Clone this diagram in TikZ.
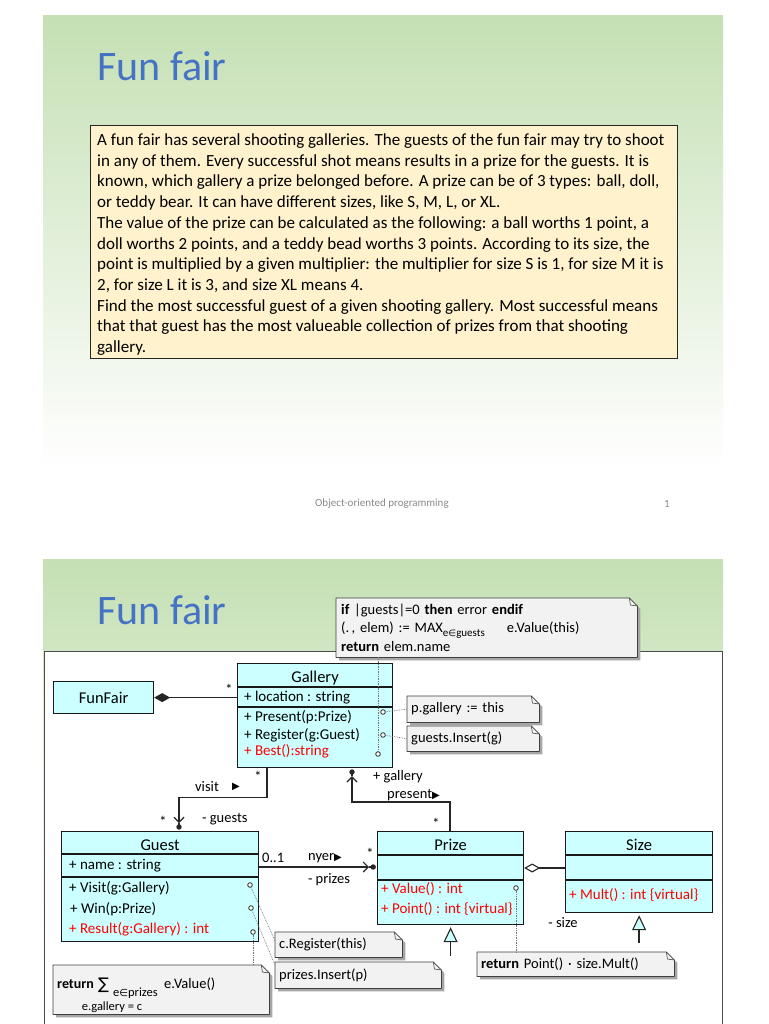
\documentclass[tikz,border=0pt]{standalone}
\usepackage{fontspec}
\setmainfont{Carlito}
\newfontfamily\symf{DejaVu Sans}
\usetikzlibrary{arrows.meta,calc}
\pgfdeclarelayer{back}
\pgfdeclarelayer{bg}
\pgfsetlayers{back,bg,main}
\newcommand\myfs[2]{\fontsize{#1}{#2}\selectfont}
\definecolor{slidegreen}{HTML}{C5E0B4}
\definecolor{titleblue}{HTML}{4472C4}
\definecolor{boxyellow}{HTML}{FFF2CC}
\definecolor{classcyan}{HTML}{CCFFFF}
\definecolor{notegrey}{HTML}{F2F2F2}
\definecolor{opred}{HTML}{FF0000}
\definecolor{footgrey}{HTML}{898989}
\tikzset{
 slidetitle/.style={font=\myfs{42}{42}, text=titleblue, inner sep=0},
 classbox/.style={draw=black!90, fill=classcyan, line width=1.2pt, anchor=north west, inner sep=0},
 classdiv/.style={draw=black!90, line width=1.2pt},
 classtitle/.style={font=\myfs{16.5}{18}, inner sep=0, text height=14pt, text depth=1pt},
 member/.style={font=\myfs{15}{16}, inner sep=0, anchor=west, text height=11pt, text depth=2pt},
 redop/.style={member, text=opred},
 opcirc/.style={circle, draw=black!85, fill=white, line width=0.8pt, inner sep=0, minimum size=4.6pt},
 assoc/.style={draw=black!85, line width=1.3pt},
 barbtip/.style={-{Straight Barb[length=5pt,width=10pt,line width=1.2pt]}},
 lbl/.style={font=\myfs{14.5}{16}, inner sep=0},
 notetxt/.style={anchor=north west, inner xsep=4pt, inner ysep=0, align=left, font=\myfs{14.5}{18.5}},
 noteline/.style={draw=black!55, densely dotted, line width=0.7pt},
}
\newcommand\notefold[1]{%
\begin{pgfonlayer}{bg}
\fill[black!35] ([shift={(3pt,-3pt)}]#1.north west) -- ([shift={(-5pt,-3pt)}]#1.north east) -- ([shift={(3pt,-11pt)}]#1.north east) -- ([shift={(3pt,-3pt)}]#1.south east) -- ([shift={(3pt,-3pt)}]#1.south west) -- cycle;
\filldraw[fill=notegrey, draw=black!75, line width=0.8pt, line join=round] (#1.north west) -- ([xshift=-8pt]#1.north east) -- ([yshift=-8pt]#1.north east) -- (#1.south east) -- (#1.south west) -- cycle;
\draw[black!75, line width=0.6pt] ([xshift=-8pt]#1.north east) -- ([shift={(-7pt,-7pt)}]#1.north east) -- ([yshift=-8pt]#1.north east);
\end{pgfonlayer}}
\begin{document}
\begin{tikzpicture}[x=1pt,y=-1pt]
\useasboundingbox (0,0) rectangle (768,1024);
% ---------- slide backgrounds ----------
\begin{pgfonlayer}{back}
\shade[top color=slidegreen, bottom color=white] (43,16) rectangle (723,470);
\shade[top color=slidegreen, bottom color=white] (43,559) rectangle (723,1024);
\draw[draw=black!70, fill=white, line width=0.8pt] (44,651) rectangle (722,1030);
\end{pgfonlayer}
% ---------- slide 1 ----------
\node[slidetitle, anchor=base west] (title1) at (97,81) {Fun fair};
\node[draw=black!85, fill=boxyellow, line width=1pt, anchor=north west, minimum width=587pt, minimum height=233pt, inner sep=0] (descbox) at (90,125) {};
\node[anchor=north west, inner sep=0, align=left, font=\myfs{17}{20.7}] (desc) at (97,133.5) {A fun fair has several shooting galleries. The guests of the fun fair may try to shoot\\
in any of them. Every successful shot means results in a prize for the guests. It is\\
known, which gallery a prize belonged before. A prize can be of 3 types: ball, doll,\\
or teddy bear. It can have different sizes, like S, M, L, or XL.\\
The value of the prize can be calculated as the following: a ball worths 1 point, a\\
doll worths 2 points, and a teddy bead worths 3 points. According to its size, the\\
point is multiplied by a given multiplier: the multiplier for size S is 1, for size M it is\\
2, for size L it is 3, and size XL means 4.\\
Find the most successful guest of a given shooting gallery. Most successful means\\
that that guest has the most valueable collection of prizes from that shooting\\
gallery.};
\node[font=\myfs{11}{12}, text=footgrey, anchor=west, inner sep=0] (foot1) at (315,504) {Object-oriented programming};
\node[font=\myfs{11}{12}, text=footgrey, inner sep=0] (page1) at (667,504) {1};
% ---------- slide 2 ----------
\node[slidetitle, anchor=base west] (title2) at (97,624) {Fun fair};
% notes
\node[notetxt, text width=291pt, minimum height=59pt, inner xsep=5pt] (bestnote) at (336,598) {\textbf{if} |guests|=0 \textbf{then} error \textbf{endif}\\
(.\,, elem) := MAX\raisebox{-4pt}{\myfs{11}{12}e{\symf\myfs{9}{10}∈}guests}\hspace{22pt}e.Value(this)\\
\textbf{return} elem.name};
\notefold{bestnote}
\node[notetxt, text width=124pt, minimum height=26pt] (pnote) at (407,696) {p.gallery := this};
\notefold{pnote}
\node[notetxt, text width=124pt, minimum height=25pt] (inote) at (407,726) {guests.Insert(g)};
\notefold{inote}
\node[notetxt, text width=119pt, minimum height=25pt] (regnote) at (275,932) {c.Register(this)};
\notefold{regnote}
\node[notetxt, text width=158pt, minimum height=26pt] (insnote) at (275,962) {prizes.Insert(p)};
\notefold{insnote}
\node[notetxt, text width=189pt, minimum height=24pt] (pointnote) at (477,952) {\textbf{return} Point() · size.Mult()};
\notefold{pointnote}
\node[notetxt, text width=208pt, minimum height=49pt] (sumnote) at (53,965) {};
\notefold{sumnote}
\node[anchor=base west, inner sep=0, font=\bfseries\myfs{14}{16}] (sumret) at (57,988) {return};
\node[anchor=base west, inner sep=0, font=\symf\myfs{16}{18}] (sumsig) at (98,989) {∑};
\node[anchor=base west, inner sep=0, font=\myfs{12.5}{14}] (sumsub) at (113,996) {e{\symf\myfs{10}{12}∈}prizes};
\node[anchor=base west, inner sep=0, font=\myfs{14.5}{16}] (sumval) at (164,988) {e.Value()};
\node[anchor=base, inner sep=0, font=\myfs{12.5}{14}] (sumcond) at (112,1010) {e.gallery = c};
% FunFair
\node[classbox, minimum width=100pt, minimum height=32pt, font=\myfs{16.5}{18}] (funfair) at (53,681) {FunFair};
% Gallery
\node[classbox, minimum width=155pt, minimum height=104pt] (gallery) at (237,663) {};
\draw[classdiv] ([yshift=-24pt]gallery.north west) -- ([yshift=-24pt]gallery.north east);
\draw[classdiv] ([yshift=-44pt]gallery.north west) -- ([yshift=-44pt]gallery.north east);
\node[classtitle] (gallerytitle) at ([yshift=-13pt]gallery.north) {Gallery};
\node[member] (galloc) at (244,696.5) {+ location : string};
\node[member] (galpresent) at (244,717) {+ Present(p:Prize)};
\node[member] (galregister) at (244,735) {+ Register(g:Guest)};
\node[redop] (galbest) at (244,751) {+ Best():string};
% Guest
\node[classbox, minimum width=197pt, minimum height=110pt] (guest) at (61,831) {};
\draw[classdiv] ([yshift=-23pt]guest.north west) -- ([yshift=-23pt]guest.north east);
\draw[classdiv] ([yshift=-46pt]guest.north west) -- ([yshift=-46pt]guest.north east);
\node[classtitle] (guesttitle) at ([yshift=-13pt]guest.north) {Guest};
\node[member] (guestname) at (69,865) {+ name : string};
\node[member] (guestvisit) at (69,888) {+ Visit(g:Gallery)};
\node[member] (guestwin) at (70,909) {+ Win(p:Prize)};
\node[redop] (guestresult) at (69,929) {+ Result(g:Gallery) : int};
% Prize
\node[classbox, minimum width=146pt, minimum height=93pt] (prize) at (377,831) {};
\draw[classdiv] ([yshift=-24pt]prize.north west) -- ([yshift=-24pt]prize.north east);
\draw[classdiv] ([yshift=-49pt]prize.north west) -- ([yshift=-49pt]prize.north east);
\node[classtitle] (prizetitle) at ([yshift=-13pt]prize.north) {Prize};
\node[redop] (prizevalue) at (381,889) {+ Value() : int};
\node[redop] (prizepoint) at (381,909) {+ Point() : int \{virtual\}};
% Size
\node[classbox, minimum width=147pt, minimum height=81pt] (size) at (565,831) {};
\draw[classdiv] ([yshift=-24pt]size.north west) -- ([yshift=-24pt]size.north east);
\draw[classdiv] ([yshift=-49pt]size.north west) -- ([yshift=-49pt]size.north east);
\node[classtitle] (sizetitle) at ([yshift=-13pt]size.north) {Size};
\node[redop] (sizemult) at (569,895) {+ Mult() : int \{virtual\}};
% operation circles
\node[opcirc] (gc1) at (383,712) {};
\node[opcirc] (gc2) at (383,735) {};
\node[opcirc] (gc3) at (378,754) {};
\node[opcirc] (uc1) at (250,885) {};
\node[opcirc] (uc2) at (251,908) {};
\node[opcirc] (uc3) at (253,932) {};
\node[opcirc] (pc1) at (516,888) {};
% dotted note links
\draw[noteline] (gc3) -- (gc3 |- bestnote.south);
\draw[noteline] (gc1) -- (pnote.west);
\draw[noteline] (gc2) -- (inote.west);
\draw[noteline] (uc1) -- ([yshift=4pt]regnote.west);
\draw[noteline] (uc2) -- ([yshift=-3pt]insnote.north west);
\draw[noteline] (uc3) -- (uc3 |- sumnote.north);
\draw[noteline] (pc1) -- (pc1 |- pointnote.north);
% composition FunFair - Gallery
\draw[assoc, {Diamond[length=16pt,width=9pt]}-] (funfair.east) -- (funfair.east -| gallery.west);
\node[lbl] (starff) at (229,689) {*};
% visit association
\coordinate (visitend) at ([xshift=118pt]guest.north west);
\draw[assoc, barbtip] ([xshift=30pt]gallery.south west) -- ++(0,29) -| ([yshift=8pt]visitend);
\draw[assoc] ([yshift=8pt]visitend) -- ([yshift=4pt]visitend);
\fill[black!85] ([yshift=4pt]visitend) circle[radius=2.7pt];
\node[lbl] (starv1) at (258,776) {*};
\node[lbl] (visitlbl) at (207,787) {visit};
\node[lbl, font=\symf\myfs{10}{12}] (visittri) at (236,787) {▶};
\node[lbl] (starv2) at (163,821) {*};
\node[lbl, anchor=west] (guestslbl) at (202,819) {- guests};
% present association
\coordinate (presentend) at ([xshift=115pt]gallery.south west);
\draw[assoc, barbtip] ([xshift=73pt]prize.north west) -- ++(0,-29) -| ([yshift=-8pt]presentend);
\draw[assoc] ([yshift=-8pt]presentend) -- ([yshift=-4pt]presentend);
\fill[black!85] ([yshift=-3.8pt]presentend) circle[radius=2.7pt];
\node[lbl, anchor=west] (gallerylbl) at (373,777) {+ gallery};
\node[lbl, anchor=west] (presentlbl) at (387,795) {present{\symf\myfs{10}{12}▶}};
\node[lbl] (starp) at (436,823) {*};
% nyer association Guest - Prize
\coordinate (nyerstart) at ([yshift=-36pt]guest.north east);
\coordinate (nyerend) at (nyerstart -| prize.west);
\draw[assoc, barbtip] (nyerstart) -- ([xshift=-8pt]nyerend);
\draw[assoc] ([xshift=-8pt]nyerend) -- ([xshift=-4pt]nyerend);
\fill[black!85] ([xshift=-3.8pt]nyerend) circle[radius=2.7pt];
\node[lbl, anchor=west] (multlbl) at (262,858) {0..1};
\node[lbl, anchor=west] (nyerlbl) at (308,858) {nyer{\symf\myfs{10}{12}▶}};
\node[lbl] (starn) at (370,853) {*};
\node[lbl] (prizeslbl) at (329,880) {- prizes};
% aggregation Prize - Size
\coordinate (aggstart) at ([yshift=-37pt]prize.north east);
\draw[assoc, {Diamond[fill=white,length=16pt,width=9pt,line width=1.1pt]}-] (aggstart) -- (aggstart -| size.west);
\node[lbl] (sizelbl) at (563,923) {- size};
% generalizations
\coordinate (prizesub) at ([yshift=-31pt]prize.south);
\coordinate (sizesub) at ([yshift=-30pt]size.south);
\draw[assoc, -{Triangle[fill=classcyan,length=15pt,width=14pt,line width=1.1pt]}] (prizesub) -- ([yshift=-2pt]prize.south);
\draw[assoc, -{Triangle[fill=classcyan,length=15pt,width=14pt,line width=1.1pt]}] (sizesub) -- ([yshift=-2pt]size.south);
\end{tikzpicture}
\end{document}
